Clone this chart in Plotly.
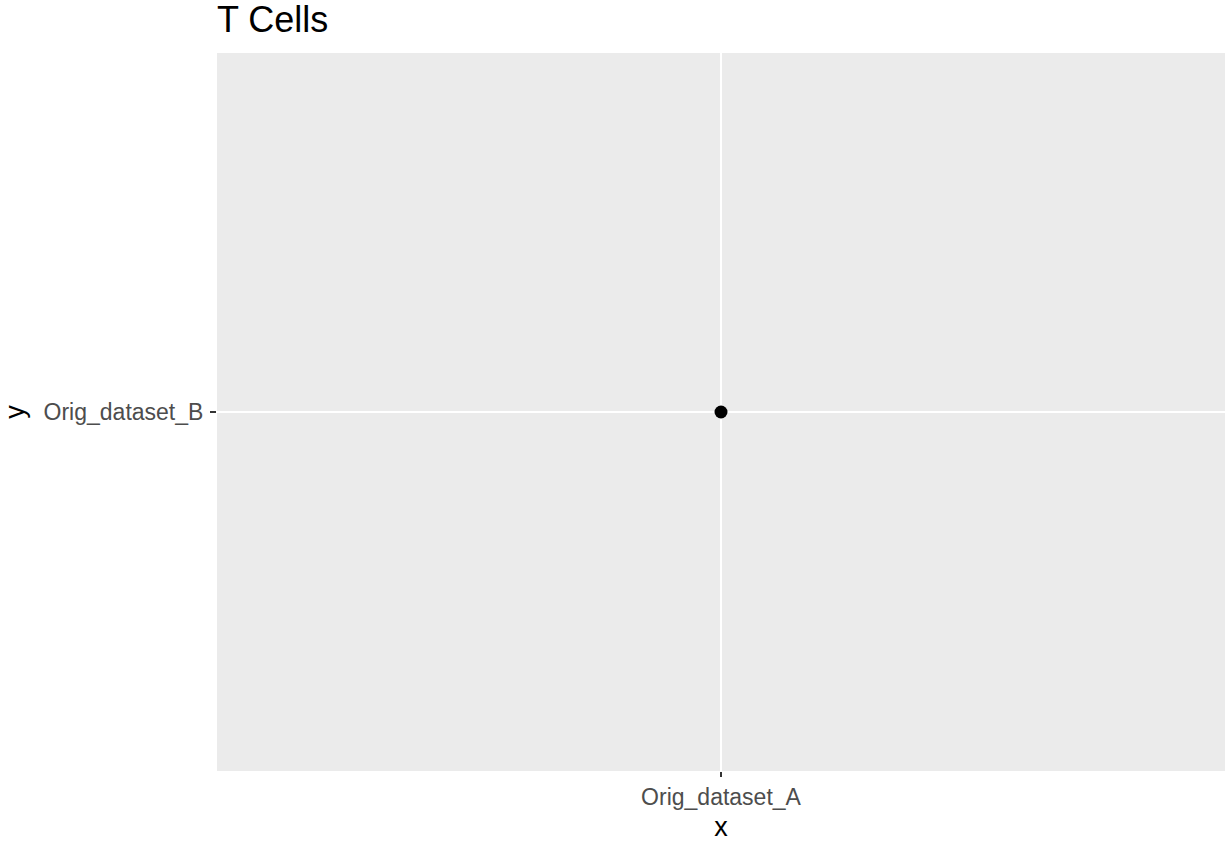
import plotly.graph_objects as go

x_categories = ["Orig_dataset_A"]
y_categories = ["Orig_dataset_B"]
title_text = "T Cells"

W, H = 1232, 854

fig = go.Figure()
fig.add_trace(go.Scatter(
    x=x_categories, y=y_categories, mode="markers",
    marker=dict(color="black", size=13, line=dict(width=0)),
    showlegend=False, hoverinfo="skip",
))

FONT = "Liberation Sans, Arial, Helvetica, sans-serif"
fig.update_layout(
    width=W, height=H,
    margin=dict(l=217, r=7, t=53, b=83),
    paper_bgcolor="white", plot_bgcolor="#EBEBEB",
    font=dict(family=FONT),
    hovermode=False,
    title=dict(text=title_text, x=217 / W, xref="container", xanchor="left",
               y=1 - 19 / H, yref="container", yanchor="middle",
               font=dict(size=36, color="black", family=FONT)),
)
common = dict(
    type="category", range=[-0.6, 0.6], showgrid=True, gridcolor="white", gridwidth=2,
    zeroline=False, showline=False, ticks="outside", tickwidth=2,
    tickcolor="#333333", tickfont=dict(size=23, color="#4D4D4D", family=FONT),
    automargin=False,
)
fig.update_xaxes(ticklen=5,
                 title=dict(text="x", font=dict(size=27, color="black", family=FONT), standoff=8), **common)
fig.update_yaxes(ticklen=6, ticklabelstandoff=2,
                 title=dict(text="y", font=dict(size=27, color="black", family=FONT), standoff=12), **common)

fig.write_html(
    "out.html",
    config={"displayModeBar": False},
    post_script="document.body.style.margin='0';document.body.style.overflow='hidden';",
)
